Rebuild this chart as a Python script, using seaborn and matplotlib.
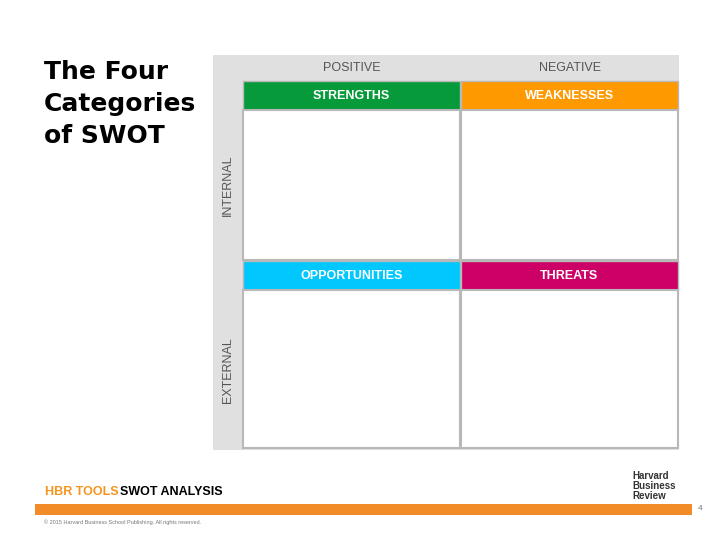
import matplotlib
matplotlib.use("Agg")
import matplotlib.pyplot as plt
import seaborn as sns
from matplotlib.patches import Rectangle

sns.set_theme(style="white")
plt.rcParams['font.family'] = ['Liberation Sans', 'DejaVu Sans']

# quadrant content
columns = ["POSITIVE", "NEGATIVE"]
rows = ["INTERNAL", "EXTERNAL"]
cell_titles = [["STRENGTHS", "WEAKNESSES"], ["OPPORTUNITIES", "THREATS"]]
cell_colors = [["#069a3a", "#ff9900"], ["#00c8ff", "#cc0066"]]

fig = plt.figure(figsize=(7.2, 5.4), dpi=100)
ax = fig.add_axes([0, 0, 1, 1])
ax.set_xlim(0, 720)
ax.set_ylim(540, 0)
ax.axis("off")

# grey frame
ax.add_patch(Rectangle((213, 55), 466, 395, color="#e0e0e0", lw=0))

col_x = [243, 461]
col_w = 217
row_y = [81, 261]
for i, r in enumerate(rows):
    for j, c in enumerate(columns):
        x, y = col_x[j], row_y[i]
        ax.add_patch(Rectangle((x, y), col_w, 29, facecolor=cell_colors[i][j],
                               edgecolor="#b8b8b8", lw=1))
        ax.add_patch(Rectangle((x, y + 29), col_w, 150 if i == 0 else 158,
                               facecolor="white", edgecolor="#b8b8b8", lw=1.5))
        ax.text(x + col_w / 2, y + 15, cell_titles[i][j], ha="center", va="center",
                fontsize=9, color="white", fontweight="bold")
    ax.text(228, [185, 370][i], r, rotation=90, ha="center", va="center",
            fontsize=9, color="#555555")
for j, c in enumerate(columns):
    ax.text(col_x[j] + col_w / 2, 68, c, ha="center", va="center", fontsize=9, color="#555555")

ax.text(44, 104, "The Four\nCategories\nof SWOT", ha="left", va="center",
        fontsize=18, fontweight="heavy", color="black", linespacing=1.4,
        family="DejaVu Sans")

# footer
ax.text(45, 492, "HBR TOOLS", ha="left", va="center", fontsize=9,
        fontweight="bold", color="#f7941d")
ax.text(120, 492, "SWOT ANALYSIS", ha="left", va="center", fontsize=9,
        fontweight="bold", color="black")
ax.add_patch(Rectangle((35, 504), 657, 11, color="#f28c28", lw=0))
ax.text(44, 522, "© 2015 Harvard Business School Publishing. All rights reserved.",
        ha="left", va="center", fontsize=4, color="#777777")
ax.text(698, 509, "4", ha="left", va="center", fontsize=6, color="#777777")
ax.text(632, 486, "Harvard\nBusiness\nReview", ha="left", va="center",
        fontsize=7, fontweight="bold", color="#333333", linespacing=0.95)

fig.savefig("out.png", dpi=100)
